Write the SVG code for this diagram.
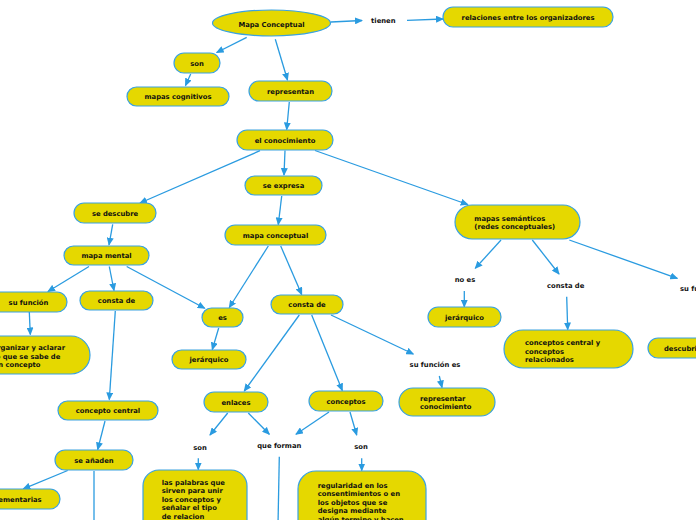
<svg xmlns="http://www.w3.org/2000/svg" width="696" height="520" viewBox="0 0 696 520">
<defs>
<marker id="ah" markerUnits="userSpaceOnUse" markerWidth="8" markerHeight="7" refX="7" refY="3.5" orient="auto">
<path d="M0,0 L8,3.5 L0,7 z" fill="#2a9be0"/>
</marker>
<style>
.n{fill:#e5d800;stroke:#3aa2e0;stroke-width:1.2}
.t{font-family:"DejaVu Sans",Verdana,sans-serif;font-weight:bold;font-size:6.8px;fill:#111;text-anchor:middle}
.l{text-anchor:start}
.c line{stroke:#2a9be0;stroke-width:1.3;marker-end:url(#ah)}
.c line.p{marker-end:none}
</style>
</defs>
<rect width="696" height="520" fill="#fff"/>
<g class="c">
<line x1="331" y1="22" x2="362" y2="20.5"/>
<line x1="407" y1="20.3" x2="443" y2="19"/>
<line x1="246.7" y1="37.3" x2="216.7" y2="52.5"/>
<line x1="190.7" y1="74" x2="185.5" y2="85.5"/>
<line x1="275.3" y1="39.3" x2="287.5" y2="80"/>
<line x1="289.3" y1="102" x2="286.7" y2="129.5"/>
<line x1="260" y1="150.7" x2="140" y2="203"/>
<line x1="285" y1="150.5" x2="284" y2="175"/>
<line x1="315" y1="150.5" x2="467.7" y2="204.5"/>
<line x1="112.7" y1="224.3" x2="109" y2="244.8"/>
<line x1="89" y1="266.5" x2="48" y2="291.5"/>
<line x1="109.3" y1="266.5" x2="114" y2="290.5"/>
<line x1="126.7" y1="266.5" x2="204.7" y2="308.3"/>
<line x1="29.3" y1="312" x2="30.3" y2="334.5"/>
<line x1="115.3" y1="311" x2="109.3" y2="399.5"/>
<line x1="218.7" y1="328" x2="212.3" y2="349.5"/>
<line x1="281.7" y1="196" x2="278.3" y2="224.5"/>
<line x1="268.3" y1="246" x2="229.3" y2="307.5"/>
<line x1="280.7" y1="246" x2="301.7" y2="294.5"/>
<line x1="299.3" y1="315" x2="244.3" y2="391"/>
<line x1="311.7" y1="315" x2="342.3" y2="390.5"/>
<line x1="331" y1="315" x2="413.3" y2="354"/>
<line x1="439.3" y1="376" x2="442" y2="387.5"/>
<line x1="501" y1="240" x2="475.3" y2="268.3"/>
<line x1="532.3" y1="240" x2="559" y2="274"/>
<line x1="569.3" y1="240" x2="677.3" y2="278.3"/>
<line x1="464.3" y1="291" x2="464.3" y2="306.8"/>
<line x1="566.7" y1="296.7" x2="567.7" y2="329.5"/>
<line x1="105" y1="421" x2="97.7" y2="449.5"/>
<line x1="67.7" y1="470.5" x2="23.3" y2="488.8"/>
<line class="p" x1="94" y1="471" x2="94" y2="525"/>
<line x1="227.7" y1="413" x2="210" y2="435"/>
<line x1="248.3" y1="413" x2="269.3" y2="434.3"/>
<line x1="329" y1="412" x2="296" y2="434.3"/>
<line x1="350" y1="412" x2="356.7" y2="435"/>
<line class="p" x1="279.3" y1="456.7" x2="278" y2="525"/>
<line x1="198.3" y1="458.3" x2="198.3" y2="469.5"/>
<line x1="361.7" y1="458.3" x2="361.7" y2="470.5"/>
</g>
<g id="mapa-conceptual-root"><ellipse class="n" cx="271.5" cy="23" rx="59" ry="13"/><text class="t" x="271.5" y="26.6">Mapa Conceptual</text></g>
<g id="tienen"><text class="t" x="383.3" y="22.8">tienen</text></g>
<g id="relaciones"><rect class="n" x="443" y="7" width="170" height="20" rx="10"/><text class="t" x="528" y="19.8">relaciones entre los organizadores</text></g>
<g id="son-top"><rect class="n" x="174" y="53" width="46" height="20" rx="10"/><text class="t" x="197" y="65.7">son</text></g>
<g id="mapas-cognitivos"><rect class="n" x="127" y="87" width="102" height="19" rx="9.5"/><text class="t" x="178" y="99.2">mapas cognitivos</text></g>
<g id="representan"><rect class="n" x="249" y="81" width="83" height="20" rx="10"/><text class="t" x="290.5" y="93.8">representan</text></g>
<g id="el-conocimiento"><rect class="n" x="237" y="130" width="96" height="20" rx="10"/><text class="t" x="285" y="142.8">el conocimiento</text></g>
<g id="se-descubre"><rect class="n" x="74" y="203" width="82" height="20" rx="10"/><text class="t" x="115" y="215.8">se descubre</text></g>
<g id="se-expresa"><rect class="n" x="245" y="176" width="77" height="19" rx="9.5"/><text class="t" x="283.5" y="188.2">se expresa</text></g>
<g id="mapas-semanticos"><rect class="n" x="455" y="205" width="125" height="34" rx="17"/><text class="t l" x="474.3" y="220.8">mapas semánticos</text><text class="t l" x="474.3" y="229.2">(redes conceptuales)</text></g>
<g id="mapa-mental"><rect class="n" x="64" y="246" width="85" height="19" rx="9.5"/><text class="t" x="106.5" y="258.2">mapa mental</text></g>
<g id="mapa-conceptual"><rect class="n" x="225" y="225" width="101" height="20" rx="10"/><text class="t" x="275.5" y="237.8">mapa conceptual</text></g>
<g id="su-funcion-left"><rect class="n" x="-10" y="292" width="77" height="20" rx="10"/><text class="t" x="28.5" y="304.8">su función</text></g>
<g id="consta-de-left"><rect class="n" x="80" y="291" width="73" height="19" rx="9.5"/><text class="t" x="116.5" y="303.2">consta de</text></g>
<g id="es"><rect class="n" x="202" y="308" width="41" height="19" rx="9.5"/><text class="t" x="222.5" y="320.2">es</text></g>
<g id="consta-de-center"><rect class="n" x="271" y="295" width="72" height="19" rx="9.5"/><text class="t" x="307" y="307.2">consta de</text></g>
<g id="no-es"><text class="t" x="465" y="281.8">no es</text></g>
<g id="consta-de-right"><text class="t" x="565.7" y="288.2">consta de</text></g>
<g id="su-funcion-right"><text class="t l" x="680" y="290.8">su función es</text></g>
<g id="jerarquico-right"><rect class="n" x="428" y="307" width="73" height="20" rx="10"/><text class="t" x="464.5" y="319.8">jerárquico</text></g>
<g id="organizar"><rect class="n" x="-40" y="336" width="130" height="38" rx="19"/><text class="t l" x="-7.5" y="349.8">organizar y aclarar</text><text class="t l" x="-6.7" y="358.6">lo que se sabe de</text><text class="t l" x="-6.5" y="367">un concepto</text></g>
<g id="conceptos-central"><rect class="n" x="504" y="330" width="129" height="38" rx="19"/><text class="t l" x="525" y="345.2">conceptos central y</text><text class="t l" x="525" y="353.5">conceptos</text><text class="t l" x="525" y="361.8">relacionados</text></g>
<g id="descubrir"><rect class="n" x="648" y="338" width="100" height="20" rx="10"/><text class="t l" x="664" y="350.8">descubrir</text></g>
<g id="jerarquico-left"><rect class="n" x="172" y="350" width="74" height="19" rx="9.5"/><text class="t" x="209" y="362.2">jerárquico</text></g>
<g id="su-funcion-es"><text class="t" x="435" y="366.8">su función es</text></g>
<g id="representar"><rect class="n" x="399" y="388" width="96" height="28" rx="14"/><text class="t l" x="420" y="400.8">representar</text><text class="t l" x="420" y="409.2">conocimiento</text></g>
<g id="enlaces"><rect class="n" x="204" y="392" width="64" height="20" rx="10"/><text class="t" x="236" y="404.8">enlaces</text></g>
<g id="conceptos"><rect class="n" x="309" y="391" width="74" height="20" rx="10"/><text class="t" x="346" y="403.8">conceptos</text></g>
<g id="concepto-central"><rect class="n" x="58" y="401" width="100" height="19" rx="9.5"/><text class="t" x="108" y="413.2">concepto central</text></g>
<g id="son-left"><text class="t" x="200" y="450.2">son</text></g>
<g id="que-forman"><text class="t" x="279.3" y="447.8">que forman</text></g>
<g id="son-right"><text class="t" x="361" y="448.8">son</text></g>
<g id="se-anaden"><rect class="n" x="55" y="450" width="78" height="20" rx="10"/><text class="t" x="94" y="462.8">se añaden</text></g>
<g id="complementarias"><rect class="n" x="-43" y="489" width="103" height="20" rx="10"/><text class="t" x="8.5" y="501.8">complementarias</text></g>
<g id="las-palabras"><rect class="n" x="143" y="470" width="104" height="80" rx="16"/><text class="t l" x="161.7" y="485.2">las palabras que</text><text class="t l" x="161.7" y="493.4">sirven para unir</text><text class="t l" x="161.7" y="501.7">los conceptos y</text><text class="t l" x="161.7" y="510.2">señalar el tipo</text><text class="t l" x="161.7" y="519">de relacion</text></g>
<g id="regularidad"><rect class="n" x="298" y="471" width="128" height="80" rx="18"/><text class="t l" x="317.7" y="488.2">regularidad en los</text><text class="t l" x="317.7" y="496.4">consentimientos o en</text><text class="t l" x="317.7" y="504.8">los objetos que se</text><text class="t l" x="317.7" y="513.2">designa mediante</text><text class="t l" x="317.7" y="521.8">algún termino y hacen</text></g>
</svg>
